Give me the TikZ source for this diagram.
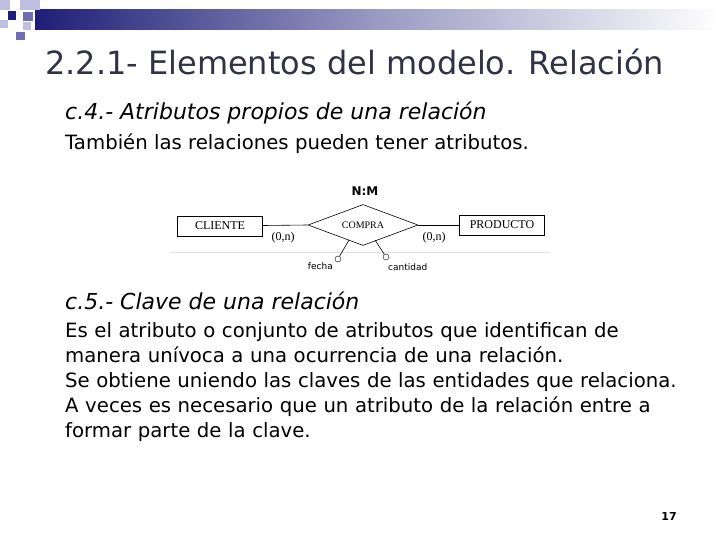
\documentclass[tikz,border=0pt]{standalone}
\usepackage{fontspec}
\setmainfont{DejaVu Sans}
\newfontfamily\serifer{Liberation Serif}
\usetikzlibrary{shapes.geometric}
\definecolor{dkblue}{RGB}{30,30,120}
\definecolor{mdblue}{RGB}{110,110,180}
\definecolor{ltblue}{RGB}{190,190,225}
\definecolor{titlec}{RGB}{50,50,70}
\tikzset{
 ent/.style={draw,semithick,minimum width=85pt,minimum height=20pt,inner sep=0pt,font=\serifer\fontsize{12}{12}\selectfont},
 txt/.style={anchor=west,inner sep=0pt},
 attr/.style={draw,circle,minimum size=6pt,inner sep=0pt},
 card/.style={inner sep=0pt,font=\serifer\fontsize{12}{12}\selectfont},
 small/.style={inner sep=0pt,font=\fontsize{9}{9}\selectfont}
}
\begin{document}
\begin{tikzpicture}[x=1pt,y=-1pt]
\useasboundingbox (0,0) rectangle (720,540);
\fill[white] (0,0) rectangle (720,540);
% header decoration
\shade[left color=dkblue,right color=white,middle color=dkblue!45] (35,10) rectangle (720,30);
\fill[ltblue] (0,0) rectangle (10,10);
\fill[ltblue] (20,0) rectangle (30,10);
\fill[ltblue] (30,0) rectangle (40,10);
\fill[dkblue] (8,11) rectangle (16,20);
\fill[ltblue] (0,20) rectangle (8,28);
\fill[mdblue] (23,12) rectangle (33,21);
\fill[ltblue] (23,22) rectangle (31,30);
\fill[mdblue] (16,32) rectangle (25,40);
% texts
\node[txt,font=\fontsize{32}{32}\selectfont,text=titlec] (title) at (45,62) {2.2.1- Elementos del modelo. Relación};
\node[txt,font=\fontsize{22}{22}\selectfont\itshape] (h1) at (65,113) {c.4.- Atributos propios de una relación};
\node[txt,font=\fontsize{19.7}{19.7}\selectfont] (p1) at (65,144) {También las relaciones pueden tener atributos.};
\node[txt,font=\fontsize{22}{22}\selectfont\itshape] (h2) at (65,301) {c.5.- Clave de una relación};
\node[txt,font=\fontsize{19.7}{25}\selectfont,align=left,text width=650pt,anchor=north west] (p2) at (65,322) {Es el atributo o conjunto de atributos que identifican de\\manera unívoca a una ocurrencia de una relación.\\Se obtiene uniendo las claves de las entidades que relaciona.\\A veces es necesario que un atributo de la relación entre a\\formar parte de la clave.};
\node[font=\bfseries\fontsize{11}{11}\selectfont] (pg) at (669,516) {17};
% diagram
\draw[black!12] (170,252) -- (550,252);
\node[ent] (cli) at (220,226) {CLIENTE};
\node[ent] (pro) at (502,225) {PRODUCTO};
\node[draw,semithick,diamond,aspect=2.7,minimum width=110pt,minimum height=41pt,inner sep=0pt,font=\serifer\fontsize{10}{10}\selectfont] (rel) at (363,225) {COMPRA};
\node[font=\bfseries\fontsize{12}{12}\selectfont] (nm) at (365,191) {N:M};
\draw[semithick] (cli) -- (rel.west);
\draw[semithick] (rel.east) -- (pro);
\node[card] (c1) at (283,238) {(0,n)};
\node[card] (c2) at (434,238) {(0,n)};
\node[attr] (a1) at (338,259) {};
\node[attr] (a2) at (386,257) {};
\draw[semithick] (349,240) -- (a1);
\draw[semithick] (375,240) -- (a2);
\node[small,anchor=east] at (333,266) {fecha};
\node[small,anchor=west] at (388,267) {cantidad};
\end{tikzpicture}
\end{document}
